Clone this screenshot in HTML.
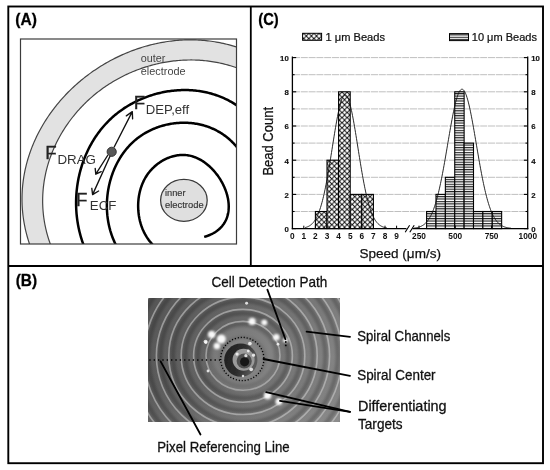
<!DOCTYPE html><html><head><meta charset="utf-8"><title>Spiral figure</title><style>
html,body{margin:0;padding:0;background:#fff;}svg{display:block;}
text{font-family:"Liberation Sans",Arial,sans-serif;}
</style></head><body>
<svg width="550" height="470" viewBox="0 0 550 470">
<defs>
<pattern id="xh" patternUnits="userSpaceOnUse" width="5.1" height="5.1" patternTransform="translate(0.3,0.3)"><rect width="5.1" height="5.1" fill="#fff"/><path d="M-1,-1 L6.1,6.1 M6.1,-1 L-1,6.1" stroke="#111" stroke-width="1.02"/></pattern>
<pattern id="hz" patternUnits="userSpaceOnUse" width="10" height="2.45"><rect width="10" height="2.45" fill="#fff"/><rect y="0" width="10" height="1.0" fill="#222"/><rect y="1.0" width="10" height="0.6" fill="#999"/></pattern>
<clipPath id="clipA"><rect x="20.5" y="39" width="216" height="205"/></clipPath>
<clipPath id="clipP"><rect x="148" y="298" width="192" height="124"/></clipPath>
<linearGradient id="pg" x1="0" y1="0" x2="1" y2="0"><stop offset="0" stop-color="#5a5a5a"/><stop offset="0.45" stop-color="#6a6a6a"/><stop offset="1" stop-color="#858585"/></linearGradient>
<linearGradient id="pgv" x1="0" y1="0" x2="0" y2="1"><stop offset="0" stop-color="#000" stop-opacity="0.06"/><stop offset="0.5" stop-color="#000" stop-opacity="0"/><stop offset="1" stop-color="#fff" stop-opacity="0.07"/></linearGradient>
<filter id="bl" x="-1" y="-1" width="3" height="3"><feGaussianBlur stdDeviation="1.1"/></filter>
<filter id="bl2" x="-1" y="-1" width="3" height="3"><feGaussianBlur stdDeviation="0.6"/></filter>
<filter id="bl3" x="-0.2" y="-0.2" width="1.4" height="1.4"><feGaussianBlur stdDeviation="1.6"/></filter>
<filter id="bl4" x="-2" y="-2" width="5" height="5"><feGaussianBlur stdDeviation="1.0"/></filter>
<linearGradient id="dk" x1="0" y1="0" x2="1" y2="0.3"><stop offset="0" stop-color="#1e1e1e"/><stop offset="0.6" stop-color="#2e2e2e"/><stop offset="1" stop-color="#5a5a5a"/></linearGradient>
</defs>
<rect x="8.3" y="6.5" width="534.7" height="456.7" fill="none" stroke="#000" stroke-width="1.9"/>
<line x1="8" y1="266" x2="543" y2="266" stroke="#000" stroke-width="1.9"/>
<line x1="250.8" y1="6" x2="250.8" y2="266" stroke="#000" stroke-width="1.8"/>
<text x="15.3" y="24.6" font-size="17.2" font-weight="bold" stroke="#000" stroke-width="0.3" textLength="21.6" lengthAdjust="spacingAndGlyphs">(A)</text>
<text x="258.3" y="24.7" font-size="17.2" font-weight="bold" stroke="#000" stroke-width="0.3" textLength="20.4" lengthAdjust="spacingAndGlyphs">(C)</text>
<text x="15.7" y="285.7" font-size="17.2" font-weight="bold" stroke="#000" stroke-width="0.3" textLength="21.4" lengthAdjust="spacingAndGlyphs">(B)</text>
<g clip-path="url(#clipA)">
<path d="M31.10,248.82 L29.86,245.01 L29.25,243.21 L28.66,241.40 L28.10,239.60 L27.56,237.79 L27.05,235.99 L26.57,234.18 L26.11,232.38 L25.67,230.58 L25.26,228.78 L24.88,226.98 L24.52,225.19 L24.19,223.39 L23.88,221.60 L23.59,219.81 L23.33,218.02 L23.09,216.23 L22.88,214.45 L22.69,212.66 L22.52,210.88 L22.38,209.11 L22.26,207.33 L22.16,205.56 L22.09,203.79 L22.04,202.03 L22.01,200.26 L22.01,198.50 L22.03,196.75 L22.07,195.00 L22.13,193.25 L22.22,191.50 L22.32,189.76 L22.45,188.03 L22.60,186.30 L22.77,184.57 L22.97,182.84 L23.18,181.12 L23.42,179.41 L23.67,177.70 L23.95,176.00 L24.25,174.30 L24.57,172.60 L24.91,170.91 L25.27,169.23 L25.65,167.55 L26.05,165.88 L26.47,164.21 L26.90,162.55 L27.36,160.89 L27.84,159.24 L28.34,157.60 L28.85,155.96 L29.39,154.33 L29.94,152.71 L30.52,151.09 L31.11,149.48 L31.72,147.88 L32.34,146.28 L32.99,144.70 L33.65,143.11 L34.34,141.54 L35.04,139.97 L35.75,138.41 L36.49,136.86 L37.24,135.32 L38.01,133.78 L38.79,132.26 L39.60,130.74 L40.42,129.23 L41.25,127.73 L42.10,126.23 L42.97,124.75 L43.86,123.27 L44.76,121.80 L45.67,120.35 L46.61,118.90 L47.55,117.46 L48.52,116.03 L49.49,114.61 L50.49,113.20 L51.50,111.80 L52.52,110.41 L53.56,109.03 L54.61,107.66 L55.68,106.29 L56.76,104.94 L57.85,103.61 L58.96,102.28 L60.09,100.96 L61.22,99.65 L62.37,98.36 L63.54,97.07 L64.71,95.80 L65.90,94.53 L67.11,93.28 L68.32,92.04 L69.55,90.82 L70.79,89.60 L72.05,88.40 L73.31,87.21 L74.59,86.03 L75.88,84.86 L77.18,83.70 L78.50,82.56 L79.82,81.43 L81.16,80.32 L82.51,79.21 L83.87,78.12 L85.23,77.04 L86.62,75.98 L88.01,74.93 L89.41,73.89 L90.82,72.87 L92.24,71.86 L93.67,70.86 L95.12,69.88 L96.57,68.91 L98.03,67.95 L99.50,67.01 L100.98,66.08 L102.47,65.17 L103.97,64.27 L105.47,63.39 L106.99,62.52 L108.51,61.67 L110.04,60.83 L111.58,60.00 L113.13,59.19 L114.69,58.40 L116.25,57.62 L117.82,56.85 L119.40,56.10 L120.99,55.37 L122.58,54.65 L124.18,53.95 L125.78,53.26 L127.40,52.59 L129.01,51.94 L130.64,51.30 L132.27,50.68 L133.91,50.07 L135.55,49.48 L137.20,48.91 L138.85,48.35 L140.51,47.81 L142.18,47.29 L143.85,46.78 L145.52,46.29 L147.20,45.82 L148.88,45.36 L150.57,44.93 L152.26,44.50 L153.96,44.10 L155.66,43.72 L157.36,43.35 L159.07,43.00 L160.78,42.67 L162.49,42.35 L164.21,42.05 L165.93,41.78 L167.65,41.52 L169.37,41.27 L171.10,41.05 L172.83,40.85 L174.56,40.66 L176.30,40.49 L178.03,40.34 L179.77,40.21 L181.51,40.10 L183.25,40.01 L184.99,39.94 L186.73,39.89 L188.48,39.85 L190.22,39.84 L191.97,39.85 L193.71,39.87 L195.46,39.92 L197.20,39.98 L198.95,40.07 L200.69,40.17 L202.44,40.30 L204.18,40.45 L205.93,40.61 L207.67,40.80 L209.41,41.01 L211.15,41.23 L212.89,41.48 L214.63,41.75 L216.37,42.04 L218.10,42.36 L219.83,42.69 L221.56,43.04 L223.29,43.42 L225.02,43.82 L226.74,44.24 L228.46,44.68 L230.18,45.14 L231.89,45.63 L233.61,46.13 L235.31,46.66 L239.15,47.80 L238.97,68.50 238.97,68.50 L235.16,67.27 L233.63,66.76 L232.09,66.26 L230.55,65.79 L229.01,65.33 L227.46,64.89 L225.91,64.47 L224.35,64.07 L222.79,63.69 L221.23,63.33 L219.67,62.99 L218.10,62.66 L216.53,62.36 L214.96,62.07 L213.38,61.81 L211.81,61.56 L210.23,61.33 L208.65,61.11 L207.07,60.92 L205.48,60.74 L203.90,60.59 L202.31,60.45 L200.73,60.32 L199.14,60.22 L197.55,60.14 L195.96,60.07 L194.37,60.02 L192.79,59.99 L191.20,59.97 L189.61,59.98 L188.02,60.00 L186.43,60.03 L184.85,60.09 L183.26,60.16 L181.68,60.25 L180.09,60.36 L178.51,60.48 L176.93,60.62 L175.35,60.78 L173.77,60.96 L172.20,61.15 L170.62,61.36 L169.05,61.58 L167.49,61.82 L165.92,62.08 L164.36,62.36 L162.80,62.65 L161.24,62.96 L159.69,63.28 L158.14,63.62 L156.59,63.98 L155.05,64.35 L153.51,64.74 L151.98,65.14 L150.45,65.56 L148.93,66.00 L147.41,66.45 L145.89,66.92 L144.38,67.40 L142.87,67.90 L141.37,68.41 L139.88,68.94 L138.39,69.48 L136.91,70.04 L135.43,70.62 L133.96,71.21 L132.50,71.81 L131.04,72.43 L129.59,73.07 L128.14,73.72 L126.70,74.38 L125.27,75.06 L123.85,75.75 L122.43,76.46 L121.03,77.18 L119.63,77.92 L118.23,78.67 L116.85,79.44 L115.47,80.22 L114.11,81.01 L112.75,81.82 L111.40,82.64 L110.05,83.48 L108.72,84.32 L107.40,85.19 L106.09,86.07 L104.78,86.96 L103.49,87.86 L102.20,88.78 L100.93,89.71 L99.67,90.65 L98.41,91.61 L97.17,92.58 L95.94,93.57 L94.72,94.56 L93.51,95.57 L92.31,96.59 L91.12,97.63 L89.94,98.68 L88.78,99.74 L87.62,100.81 L86.48,101.89 L85.35,102.99 L84.23,104.09 L83.12,105.21 L82.03,106.34 L80.94,107.48 L79.87,108.63 L78.82,109.80 L77.77,110.97 L76.74,112.16 L75.72,113.35 L74.71,114.56 L73.72,115.78 L72.74,117.00 L71.77,118.24 L70.82,119.49 L69.88,120.74 L68.95,122.01 L68.04,123.29 L67.14,124.57 L66.26,125.87 L65.39,127.17 L64.53,128.48 L63.69,129.81 L62.86,131.14 L62.05,132.48 L61.25,133.82 L60.47,135.18 L59.70,136.55 L58.95,137.92 L58.21,139.30 L57.49,140.69 L56.78,142.09 L56.09,143.49 L55.42,144.90 L54.76,146.32 L54.12,147.75 L53.49,149.18 L52.88,150.62 L52.29,152.07 L51.71,153.52 L51.15,154.98 L50.60,156.45 L50.08,157.92 L49.57,159.40 L49.07,160.89 L48.60,162.38 L48.14,163.88 L47.70,165.38 L47.27,166.89 L46.87,168.40 L46.48,169.92 L46.11,171.44 L45.76,172.97 L45.42,174.51 L45.11,176.04 L44.81,177.59 L44.53,179.13 L44.27,180.69 L44.03,182.24 L43.81,183.80 L43.61,185.37 L43.42,186.93 L43.26,188.51 L43.11,190.08 L42.99,191.66 L42.88,193.24 L42.79,194.83 L42.73,196.41 L42.68,198.01 L42.66,199.60 L42.65,201.20 L42.66,202.79 L42.70,204.39 L42.76,206.00 L42.83,207.60 L42.93,209.21 L43.05,210.82 L43.19,212.43 L43.35,214.04 L43.53,215.66 L43.73,217.27 L43.96,218.89 L44.21,220.51 L44.47,222.12 L44.77,223.74 L45.08,225.36 L45.41,226.98 L45.77,228.60 L46.15,230.22 L46.55,231.84 L46.98,233.47 L47.43,235.09 L47.90,236.71 L48.39,238.33 L48.91,239.95 L49.45,241.56 L50.01,243.18 L50.60,244.80 L51.92,248.58 Z" fill="#e2e2e2" stroke="none"/>
<path d="M31.10,248.82 L29.86,245.01 L29.25,243.21 L28.66,241.40 L28.10,239.60 L27.56,237.79 L27.05,235.99 L26.57,234.18 L26.11,232.38 L25.67,230.58 L25.26,228.78 L24.88,226.98 L24.52,225.19 L24.19,223.39 L23.88,221.60 L23.59,219.81 L23.33,218.02 L23.09,216.23 L22.88,214.45 L22.69,212.66 L22.52,210.88 L22.38,209.11 L22.26,207.33 L22.16,205.56 L22.09,203.79 L22.04,202.03 L22.01,200.26 L22.01,198.50 L22.03,196.75 L22.07,195.00 L22.13,193.25 L22.22,191.50 L22.32,189.76 L22.45,188.03 L22.60,186.30 L22.77,184.57 L22.97,182.84 L23.18,181.12 L23.42,179.41 L23.67,177.70 L23.95,176.00 L24.25,174.30 L24.57,172.60 L24.91,170.91 L25.27,169.23 L25.65,167.55 L26.05,165.88 L26.47,164.21 L26.90,162.55 L27.36,160.89 L27.84,159.24 L28.34,157.60 L28.85,155.96 L29.39,154.33 L29.94,152.71 L30.52,151.09 L31.11,149.48 L31.72,147.88 L32.34,146.28 L32.99,144.70 L33.65,143.11 L34.34,141.54 L35.04,139.97 L35.75,138.41 L36.49,136.86 L37.24,135.32 L38.01,133.78 L38.79,132.26 L39.60,130.74 L40.42,129.23 L41.25,127.73 L42.10,126.23 L42.97,124.75 L43.86,123.27 L44.76,121.80 L45.67,120.35 L46.61,118.90 L47.55,117.46 L48.52,116.03 L49.49,114.61 L50.49,113.20 L51.50,111.80 L52.52,110.41 L53.56,109.03 L54.61,107.66 L55.68,106.29 L56.76,104.94 L57.85,103.61 L58.96,102.28 L60.09,100.96 L61.22,99.65 L62.37,98.36 L63.54,97.07 L64.71,95.80 L65.90,94.53 L67.11,93.28 L68.32,92.04 L69.55,90.82 L70.79,89.60 L72.05,88.40 L73.31,87.21 L74.59,86.03 L75.88,84.86 L77.18,83.70 L78.50,82.56 L79.82,81.43 L81.16,80.32 L82.51,79.21 L83.87,78.12 L85.23,77.04 L86.62,75.98 L88.01,74.93 L89.41,73.89 L90.82,72.87 L92.24,71.86 L93.67,70.86 L95.12,69.88 L96.57,68.91 L98.03,67.95 L99.50,67.01 L100.98,66.08 L102.47,65.17 L103.97,64.27 L105.47,63.39 L106.99,62.52 L108.51,61.67 L110.04,60.83 L111.58,60.00 L113.13,59.19 L114.69,58.40 L116.25,57.62 L117.82,56.85 L119.40,56.10 L120.99,55.37 L122.58,54.65 L124.18,53.95 L125.78,53.26 L127.40,52.59 L129.01,51.94 L130.64,51.30 L132.27,50.68 L133.91,50.07 L135.55,49.48 L137.20,48.91 L138.85,48.35 L140.51,47.81 L142.18,47.29 L143.85,46.78 L145.52,46.29 L147.20,45.82 L148.88,45.36 L150.57,44.93 L152.26,44.50 L153.96,44.10 L155.66,43.72 L157.36,43.35 L159.07,43.00 L160.78,42.67 L162.49,42.35 L164.21,42.05 L165.93,41.78 L167.65,41.52 L169.37,41.27 L171.10,41.05 L172.83,40.85 L174.56,40.66 L176.30,40.49 L178.03,40.34 L179.77,40.21 L181.51,40.10 L183.25,40.01 L184.99,39.94 L186.73,39.89 L188.48,39.85 L190.22,39.84 L191.97,39.85 L193.71,39.87 L195.46,39.92 L197.20,39.98 L198.95,40.07 L200.69,40.17 L202.44,40.30 L204.18,40.45 L205.93,40.61 L207.67,40.80 L209.41,41.01 L211.15,41.23 L212.89,41.48 L214.63,41.75 L216.37,42.04 L218.10,42.36 L219.83,42.69 L221.56,43.04 L223.29,43.42 L225.02,43.82 L226.74,44.24 L228.46,44.68 L230.18,45.14 L231.89,45.63 L233.61,46.13 L235.31,46.66 L239.15,47.80" fill="none" stroke="#444" stroke-width="1.2"/>
<path d="M51.92,248.58 L50.60,244.80 L50.01,243.18 L49.45,241.56 L48.91,239.95 L48.39,238.33 L47.90,236.71 L47.43,235.09 L46.98,233.47 L46.55,231.84 L46.15,230.22 L45.77,228.60 L45.41,226.98 L45.08,225.36 L44.77,223.74 L44.47,222.12 L44.21,220.51 L43.96,218.89 L43.73,217.27 L43.53,215.66 L43.35,214.04 L43.19,212.43 L43.05,210.82 L42.93,209.21 L42.83,207.60 L42.76,206.00 L42.70,204.39 L42.66,202.79 L42.65,201.20 L42.66,199.60 L42.68,198.01 L42.73,196.41 L42.79,194.83 L42.88,193.24 L42.99,191.66 L43.11,190.08 L43.26,188.51 L43.42,186.93 L43.61,185.37 L43.81,183.80 L44.03,182.24 L44.27,180.69 L44.53,179.13 L44.81,177.59 L45.11,176.04 L45.42,174.51 L45.76,172.97 L46.11,171.44 L46.48,169.92 L46.87,168.40 L47.27,166.89 L47.70,165.38 L48.14,163.88 L48.60,162.38 L49.07,160.89 L49.57,159.40 L50.08,157.92 L50.60,156.45 L51.15,154.98 L51.71,153.52 L52.29,152.07 L52.88,150.62 L53.49,149.18 L54.12,147.75 L54.76,146.32 L55.42,144.90 L56.09,143.49 L56.78,142.09 L57.49,140.69 L58.21,139.30 L58.95,137.92 L59.70,136.55 L60.47,135.18 L61.25,133.82 L62.05,132.48 L62.86,131.14 L63.69,129.81 L64.53,128.48 L65.39,127.17 L66.26,125.87 L67.14,124.57 L68.04,123.29 L68.95,122.01 L69.88,120.74 L70.82,119.49 L71.77,118.24 L72.74,117.00 L73.72,115.78 L74.71,114.56 L75.72,113.35 L76.74,112.16 L77.77,110.97 L78.82,109.80 L79.87,108.63 L80.94,107.48 L82.03,106.34 L83.12,105.21 L84.23,104.09 L85.35,102.99 L86.48,101.89 L87.62,100.81 L88.78,99.74 L89.94,98.68 L91.12,97.63 L92.31,96.59 L93.51,95.57 L94.72,94.56 L95.94,93.57 L97.17,92.58 L98.41,91.61 L99.67,90.65 L100.93,89.71 L102.20,88.78 L103.49,87.86 L104.78,86.96 L106.09,86.07 L107.40,85.19 L108.72,84.32 L110.05,83.48 L111.40,82.64 L112.75,81.82 L114.11,81.01 L115.47,80.22 L116.85,79.44 L118.23,78.67 L119.63,77.92 L121.03,77.18 L122.43,76.46 L123.85,75.75 L125.27,75.06 L126.70,74.38 L128.14,73.72 L129.59,73.07 L131.04,72.43 L132.50,71.81 L133.96,71.21 L135.43,70.62 L136.91,70.04 L138.39,69.48 L139.88,68.94 L141.37,68.41 L142.87,67.90 L144.38,67.40 L145.89,66.92 L147.41,66.45 L148.93,66.00 L150.45,65.56 L151.98,65.14 L153.51,64.74 L155.05,64.35 L156.59,63.98 L158.14,63.62 L159.69,63.28 L161.24,62.96 L162.80,62.65 L164.36,62.36 L165.92,62.08 L167.49,61.82 L169.05,61.58 L170.62,61.36 L172.20,61.15 L173.77,60.96 L175.35,60.78 L176.93,60.62 L178.51,60.48 L180.09,60.36 L181.68,60.25 L183.26,60.16 L184.85,60.09 L186.43,60.03 L188.02,60.00 L189.61,59.98 L191.20,59.97 L192.79,59.99 L194.37,60.02 L195.96,60.07 L197.55,60.14 L199.14,60.22 L200.73,60.32 L202.31,60.45 L203.90,60.59 L205.48,60.74 L207.07,60.92 L208.65,61.11 L210.23,61.33 L211.81,61.56 L213.38,61.81 L214.96,62.07 L216.53,62.36 L218.10,62.66 L219.67,62.99 L221.23,63.33 L222.79,63.69 L224.35,64.07 L225.91,64.47 L227.46,64.89 L229.01,65.33 L230.55,65.79 L232.09,66.26 L233.63,66.76 L235.16,67.27 L238.97,68.50" fill="none" stroke="#444" stroke-width="1.2"/>
<path d="M153.37,245.72 L150.86,242.61 L150.13,241.75 L149.41,240.87 L148.72,239.97 L148.06,239.05 L147.41,238.11 L146.78,237.16 L146.18,236.18 L145.60,235.19 L145.03,234.19 L144.49,233.16 L143.97,232.13 L143.48,231.08 L143.00,230.01 L142.55,228.94 L142.12,227.85 L141.71,226.74 L141.32,225.63 L140.96,224.51 L140.61,223.38 L140.29,222.23 L139.99,221.08 L139.72,219.93 L139.46,218.76 L139.23,217.59 L139.02,216.41 L138.83,215.23 L138.67,214.04 L138.53,212.84 L138.41,211.65 L138.31,210.45 L138.24,209.25 L138.19,208.05 L138.16,206.84 L138.15,205.64 L138.17,204.43 L138.21,203.23 L138.28,202.03 L138.37,200.83 L138.48,199.63 L138.61,198.44 L138.77,197.25 L138.95,196.06 L139.16,194.88 L139.38,193.71 L139.64,192.54 L139.91,191.38 L140.21,190.23 L140.53,189.08 L140.88,187.95 L141.25,186.82 L141.65,185.71 L142.07,184.60 L142.51,183.51 L142.98,182.43 L143.47,181.36 L143.99,180.31 L144.53,179.27 L145.09,178.24 L145.68,177.23 L146.30,176.24 L146.94,175.26 L147.60,174.30 L148.28,173.36 L148.99,172.43 L149.73,171.53 L150.48,170.64 L151.25,169.77 L152.05,168.92 L152.86,168.09 L153.69,167.29 L154.54,166.50 L155.41,165.74 L156.30,164.99 L157.20,164.27 L158.12,163.58 L159.05,162.90 L160.00,162.25 L160.96,161.63 L161.93,161.03 L162.92,160.45 L163.91,159.90 L164.92,159.38 L165.94,158.88 L166.97,158.41 L168.01,157.97 L169.05,157.56 L170.11,157.17 L171.17,156.82 L172.23,156.49 L173.31,156.19 L174.38,155.93 L175.47,155.69 L176.55,155.49 L177.64,155.32 L178.73,155.17 L179.83,155.07 L180.92,154.99 L182.02,154.95 L183.11,154.94 L184.21,154.97 L185.30,155.03 L186.39,155.13 L187.48,155.26 L188.56,155.43 L189.64,155.64 L190.72,155.88 L191.79,156.16 L192.85,156.47 L193.91,156.82 L194.96,157.20 L196.01,157.62 L197.05,158.07 L198.07,158.55 L199.10,159.06 L200.11,159.60 L201.11,160.17 L202.10,160.77 L203.08,161.40 L204.05,162.05 L205.01,162.73 L205.96,163.44 L206.90,164.17 L207.82,164.93 L208.73,165.70 L209.62,166.51 L210.50,167.33 L211.37,168.18 L212.22,169.04 L213.06,169.93 L213.88,170.83 L214.68,171.75 L215.46,172.69 L216.23,173.65 L216.98,174.63 L217.71,175.61 L218.43,176.62 L219.12,177.63 L219.79,178.66 L220.44,179.71 L221.08,180.76 L221.69,181.83 L222.27,182.90 L222.84,183.99 L223.38,185.08 L223.90,186.18 L224.40,187.29 L224.87,188.41 L225.32,189.53 L225.74,190.65 L226.14,191.78 L226.51,192.92 L226.85,194.05 L227.17,195.19 L227.45,196.33 L227.71,197.47 L227.95,198.61 L228.15,199.75 L228.32,200.89 L228.47,202.02 L228.58,203.15 L228.66,204.28 L228.71,205.40 L228.73,206.52 L228.72,207.63 L228.67,208.74 L228.59,209.83 L228.48,210.92 L228.33,212.00 L228.15,213.07 L227.93,214.13 L227.68,215.18 L227.39,216.21 L227.06,217.24 L226.70,218.25 L226.30,219.24 L225.86,220.22 L225.38,221.18 L224.86,222.13 L224.31,223.06 L223.71,223.97 L223.07,224.87 L222.40,225.74 L221.68,226.60 L220.92,227.43 L220.11,228.24 L219.27,229.03 L218.38,229.80 L217.45,230.54 L216.47,231.25 L215.45,231.95 L214.38,232.61 L213.27,233.25 L212.11,233.86 L210.90,234.44 L209.65,235.00 L208.35,235.52 L207.00,236.01 L205.60,236.48 L204.15,236.91" fill="none" stroke="#000" stroke-width="2.5" stroke-linecap="butt"/>
<path d="M116.80,247.07 L115.15,243.43 L114.67,242.41 L114.20,241.38 L113.74,240.34 L113.30,239.30 L112.88,238.25 L112.47,237.20 L112.08,236.14 L111.70,235.07 L111.33,234.00 L110.98,232.92 L110.65,231.84 L110.32,230.75 L110.02,229.66 L109.73,228.57 L109.45,227.47 L109.18,226.36 L108.93,225.26 L108.70,224.15 L108.48,223.03 L108.27,221.91 L108.08,220.79 L107.90,219.67 L107.74,218.54 L107.59,217.42 L107.46,216.29 L107.33,215.15 L107.23,214.02 L107.13,212.89 L107.06,211.75 L106.99,210.61 L106.94,209.47 L106.90,208.33 L106.88,207.19 L106.87,206.05 L106.87,204.91 L106.89,203.77 L106.92,202.63 L106.97,201.49 L107.03,200.35 L107.10,199.22 L107.19,198.08 L107.29,196.94 L107.40,195.81 L107.53,194.68 L107.67,193.55 L107.82,192.42 L107.99,191.29 L108.17,190.17 L108.36,189.05 L108.57,187.93 L108.79,186.81 L109.02,185.70 L109.27,184.59 L109.53,183.49 L109.80,182.39 L110.09,181.29 L110.39,180.20 L110.70,179.11 L111.03,178.03 L111.36,176.95 L111.71,175.88 L112.08,174.81 L112.46,173.75 L112.85,172.69 L113.25,171.64 L113.66,170.60 L114.09,169.56 L114.53,168.53 L114.99,167.50 L115.45,166.48 L115.93,165.47 L116.42,164.47 L116.93,163.47 L117.44,162.49 L117.97,161.51 L118.51,160.53 L119.07,159.57 L119.63,158.61 L120.21,157.67 L120.80,156.73 L121.40,155.80 L122.02,154.88 L122.65,153.97 L123.29,153.07 L123.94,152.18 L124.60,151.30 L125.28,150.43 L125.96,149.58 L126.66,148.73 L127.38,147.89 L128.10,147.06 L128.84,146.25 L129.58,145.45 L130.34,144.65 L131.11,143.88 L131.90,143.11 L132.69,142.35 L133.50,141.61 L134.32,140.88 L135.15,140.17 L135.99,139.46 L136.84,138.77 L137.71,138.10 L138.58,137.43 L139.47,136.78 L140.37,136.15 L141.27,135.53 L142.19,134.92 L143.12,134.32 L144.06,133.74 L145.01,133.18 L145.96,132.63 L146.93,132.09 L147.90,131.56 L148.88,131.06 L149.87,130.56 L150.87,130.08 L151.88,129.61 L152.89,129.16 L153.91,128.73 L154.94,128.30 L155.98,127.90 L157.02,127.51 L158.07,127.13 L159.12,126.77 L160.18,126.42 L161.24,126.09 L162.31,125.77 L163.39,125.47 L164.47,125.18 L165.55,124.91 L166.64,124.65 L167.73,124.41 L168.83,124.19 L169.93,123.98 L171.03,123.79 L172.14,123.61 L173.25,123.45 L174.36,123.30 L175.47,123.17 L176.58,123.06 L177.70,122.96 L178.82,122.88 L179.94,122.82 L181.06,122.77 L182.18,122.73 L183.30,122.72 L184.42,122.72 L185.55,122.74 L186.67,122.77 L187.79,122.82 L188.91,122.89 L190.03,122.97 L191.15,123.07 L192.26,123.19 L193.38,123.32 L194.49,123.48 L195.60,123.64 L196.71,123.83 L197.81,124.03 L198.91,124.26 L200.01,124.49 L201.11,124.75 L202.20,125.02 L203.29,125.32 L204.37,125.62 L205.45,125.95 L206.52,126.30 L207.59,126.66 L208.66,127.04 L209.71,127.44 L210.77,127.85 L211.81,128.29 L212.85,128.74 L213.89,129.21 L214.91,129.70 L215.93,130.21 L216.94,130.74 L217.95,131.28 L218.95,131.84 L219.94,132.43 L220.92,133.03 L221.89,133.65 L222.85,134.29 L223.81,134.94 L224.75,135.62 L225.69,136.32 L226.61,137.03 L227.53,137.77 L228.44,138.52 L229.33,139.29 L230.22,140.09 L231.09,140.90 L231.95,141.73 L232.80,142.58 L233.64,143.45 L234.47,144.34 L235.28,145.25 L236.08,146.18 L238.75,149.16" fill="none" stroke="#000" stroke-width="2.5" stroke-linecap="butt"/>
<path d="M84.37,247.45 L83.08,243.66 L82.62,242.35 L82.17,241.03 L81.74,239.71 L81.33,238.38 L80.93,237.05 L80.55,235.72 L80.18,234.38 L79.83,233.04 L79.50,231.70 L79.18,230.35 L78.88,229.00 L78.59,227.65 L78.32,226.29 L78.06,224.94 L77.82,223.58 L77.60,222.22 L77.39,220.85 L77.20,219.49 L77.02,218.12 L76.86,216.75 L76.71,215.38 L76.58,214.01 L76.46,212.64 L76.36,211.27 L76.28,209.90 L76.21,208.52 L76.16,207.15 L76.12,205.78 L76.09,204.41 L76.08,203.03 L76.09,201.66 L76.11,200.29 L76.15,198.92 L76.20,197.55 L76.27,196.19 L76.35,194.82 L76.45,193.45 L76.56,192.09 L76.69,190.73 L76.83,189.37 L76.98,188.02 L77.15,186.66 L77.34,185.31 L77.54,183.96 L77.76,182.62 L77.99,181.28 L78.23,179.94 L78.49,178.60 L78.76,177.27 L79.05,175.94 L79.36,174.62 L79.67,173.30 L80.01,171.98 L80.35,170.67 L80.71,169.37 L81.09,168.07 L81.48,166.77 L81.88,165.48 L82.30,164.20 L82.73,162.92 L83.18,161.64 L83.64,160.38 L84.11,159.11 L84.60,157.86 L85.10,156.61 L85.62,155.37 L86.15,154.13 L86.70,152.90 L87.25,151.68 L87.83,150.47 L88.41,149.26 L89.01,148.06 L89.63,146.87 L90.25,145.69 L90.90,144.52 L91.55,143.35 L92.22,142.19 L92.90,141.04 L93.60,139.90 L94.31,138.77 L95.03,137.65 L95.77,136.54 L96.52,135.44 L97.28,134.34 L98.06,133.26 L98.85,132.19 L99.65,131.13 L100.47,130.08 L101.30,129.03 L102.15,128.00 L103.00,126.98 L103.87,125.98 L104.76,124.98 L105.65,123.99 L106.56,123.02 L107.48,122.06 L108.42,121.11 L109.37,120.17 L110.33,119.25 L111.30,118.33 L112.29,117.43 L113.29,116.55 L114.30,115.67 L115.33,114.81 L116.37,113.96 L117.42,113.13 L118.48,112.31 L119.55,111.50 L120.63,110.71 L121.73,109.93 L122.84,109.16 L123.95,108.41 L125.08,107.67 L126.22,106.94 L127.36,106.23 L128.52,105.53 L129.69,104.85 L130.86,104.18 L132.05,103.53 L133.24,102.89 L134.44,102.26 L135.66,101.65 L136.87,101.05 L138.10,100.47 L139.34,99.90 L140.58,99.35 L141.83,98.82 L143.08,98.29 L144.35,97.79 L145.62,97.30 L146.89,96.82 L148.17,96.36 L149.46,95.91 L150.75,95.48 L152.05,95.07 L153.36,94.67 L154.67,94.29 L155.98,93.92 L157.30,93.57 L158.62,93.24 L159.95,92.92 L161.28,92.62 L162.61,92.33 L163.95,92.06 L165.29,91.81 L166.63,91.57 L167.98,91.35 L169.33,91.15 L170.68,90.96 L172.03,90.79 L173.39,90.64 L174.74,90.50 L176.10,90.38 L177.46,90.28 L178.82,90.20 L180.18,90.13 L181.54,90.08 L182.90,90.05 L184.26,90.04 L185.62,90.04 L186.98,90.06 L188.34,90.10 L189.70,90.16 L191.05,90.23 L192.41,90.33 L193.76,90.44 L195.12,90.57 L196.47,90.72 L197.81,90.88 L199.16,91.07 L200.50,91.27 L201.84,91.49 L203.18,91.74 L204.51,92.00 L205.84,92.27 L207.16,92.57 L208.48,92.89 L209.80,93.22 L211.11,93.58 L212.42,93.95 L213.72,94.35 L215.02,94.76 L216.31,95.20 L217.59,95.65 L218.87,96.12 L220.15,96.61 L221.41,97.13 L222.67,97.66 L223.93,98.21 L225.17,98.78 L226.41,99.37 L227.64,99.99 L228.87,100.62 L230.08,101.28 L231.29,101.95 L232.49,102.64 L233.68,103.36 L234.86,104.10 L236.03,104.85 L239.42,106.97" fill="none" stroke="#000" stroke-width="2.5" stroke-linecap="butt"/>
</g>
<rect x="20.5" y="39" width="216" height="205" fill="none" stroke="#3c3c3c" stroke-width="1.2"/>
<ellipse cx="183.9" cy="200.3" rx="23.3" ry="21.0" fill="#dfdfdf" stroke="#3a3a3a" stroke-width="1.25"/>
<text x="165" y="196.4" font-size="9.6" fill="#333" stroke="#333" stroke-width="0.15" textLength="20.6" lengthAdjust="spacingAndGlyphs">inner</text>
<text x="165" y="207.9" font-size="9.6" fill="#333" stroke="#333" stroke-width="0.15" textLength="38.6" lengthAdjust="spacingAndGlyphs">electrode</text>
<text x="140.8" y="61.5" font-size="10.8" fill="#444" textLength="24.6" lengthAdjust="spacingAndGlyphs">outer</text>
<text x="140.8" y="75.3" font-size="10.8" fill="#444" textLength="44.8" lengthAdjust="spacingAndGlyphs">electrode</text>
<g fill="#333">
<text x="45.2" y="158.7" font-size="18.7" fill="#222" stroke="#222" stroke-width="0.35">F</text>
<text x="57.4" y="164" font-size="12.6" textLength="38.6" lengthAdjust="spacingAndGlyphs">DRAG</text>
<text x="76" y="205.5" font-size="18.7" fill="#222" stroke="#222" stroke-width="0.35">F</text>
<text x="89.8" y="210.4" font-size="12.6" textLength="26.6" lengthAdjust="spacingAndGlyphs">ECF</text>
<text x="133.7" y="109" font-size="18.7" fill="#222" stroke="#222" stroke-width="0.35">F</text>
<text x="145.8" y="114.1" font-size="12.6" textLength="43.4" lengthAdjust="spacingAndGlyphs">DEP,eff</text>
</g>
<g stroke="#111" stroke-width="1.35" fill="none" stroke-linecap="round" stroke-linejoin="round">
<path d="M114.2,147 L132.3,111.6 M126.3,115.9 L132.3,111.6 L132.6,118.9"/>
<path d="M107.6,155.5 L95.8,174.2 M95.2,168.4 L95.8,174.2 L101.2,171.6"/>
<path d="M110.2,155.8 L92.6,194.6 M91.8,188.3 L92.6,194.6 L98.6,191.0"/>
</g>
<circle cx="111.7" cy="151.8" r="4.6" fill="#585858" stroke="#2a2a2a" stroke-width="0.9"/>
<line x1="293" y1="211.50" x2="527.5" y2="211.50" stroke="#b8b8b8" stroke-width="0.9" stroke-dasharray="7,0.8"/>
<line x1="293" y1="194.40" x2="527.5" y2="194.40" stroke="#b8b8b8" stroke-width="0.9" stroke-dasharray="7,0.8"/>
<line x1="293" y1="177.30" x2="527.5" y2="177.30" stroke="#b8b8b8" stroke-width="0.9" stroke-dasharray="7,0.8"/>
<line x1="293" y1="160.20" x2="527.5" y2="160.20" stroke="#b8b8b8" stroke-width="0.9" stroke-dasharray="7,0.8"/>
<line x1="293" y1="143.10" x2="527.5" y2="143.10" stroke="#b8b8b8" stroke-width="0.9" stroke-dasharray="7,0.8"/>
<line x1="293" y1="126.00" x2="527.5" y2="126.00" stroke="#b8b8b8" stroke-width="0.9" stroke-dasharray="7,0.8"/>
<line x1="293" y1="108.90" x2="527.5" y2="108.90" stroke="#b8b8b8" stroke-width="0.9" stroke-dasharray="7,0.8"/>
<line x1="293" y1="91.80" x2="527.5" y2="91.80" stroke="#b8b8b8" stroke-width="0.9" stroke-dasharray="7,0.8"/>
<line x1="293" y1="74.70" x2="527.5" y2="74.70" stroke="#b8b8b8" stroke-width="0.9" stroke-dasharray="7,0.8"/>
<line x1="293" y1="57.60" x2="527.5" y2="57.60" stroke="#b8b8b8" stroke-width="0.9" stroke-dasharray="7,0.8"/>
<rect x="315.40" y="211.50" width="11.60" height="17.10" fill="url(#xh)" stroke="#000" stroke-width="1.1"/>
<rect x="327.00" y="160.20" width="11.60" height="68.40" fill="url(#xh)" stroke="#000" stroke-width="1.1"/>
<rect x="338.60" y="91.80" width="11.60" height="136.80" fill="url(#xh)" stroke="#000" stroke-width="1.1"/>
<rect x="350.20" y="194.40" width="11.60" height="34.20" fill="url(#xh)" stroke="#000" stroke-width="1.1"/>
<rect x="361.80" y="194.40" width="11.60" height="34.20" fill="url(#xh)" stroke="#000" stroke-width="1.1"/>
<rect x="426.60" y="211.50" width="9.38" height="17.10" fill="url(#hz)" stroke="#000" stroke-width="1.1"/>
<rect x="435.98" y="194.40" width="9.38" height="34.20" fill="url(#hz)" stroke="#000" stroke-width="1.1"/>
<rect x="445.36" y="177.30" width="9.38" height="51.30" fill="url(#hz)" stroke="#000" stroke-width="1.1"/>
<rect x="454.74" y="91.80" width="9.38" height="136.80" fill="url(#hz)" stroke="#000" stroke-width="1.1"/>
<rect x="464.12" y="143.10" width="9.38" height="85.50" fill="url(#hz)" stroke="#000" stroke-width="1.1"/>
<rect x="473.50" y="211.50" width="9.38" height="17.10" fill="url(#hz)" stroke="#000" stroke-width="1.1"/>
<rect x="482.88" y="211.50" width="9.38" height="17.10" fill="url(#hz)" stroke="#000" stroke-width="1.1"/>
<rect x="492.26" y="211.50" width="9.38" height="17.10" fill="url(#hz)" stroke="#000" stroke-width="1.1"/>
<path d="M305.00,227.61 L305.50,227.48 L306.00,227.34 L306.50,227.18 L307.00,227.01 L307.50,226.81 L308.00,226.60 L308.50,226.36 L309.00,226.09 L309.50,225.80 L310.00,225.49 L310.50,225.14 L311.00,224.75 L311.50,224.34 L312.00,223.88 L312.50,223.38 L313.00,222.84 L313.50,222.25 L314.00,221.61 L314.50,220.92 L315.00,220.18 L315.50,219.38 L316.00,218.51 L316.50,217.58 L317.00,216.59 L317.50,215.52 L318.00,214.38 L318.50,213.17 L319.00,211.88 L319.50,210.51 L320.00,209.05 L320.50,207.51 L321.00,205.88 L321.50,204.17 L322.00,202.36 L322.50,200.47 L323.00,198.48 L323.50,196.41 L324.00,194.24 L324.50,191.98 L325.00,189.64 L325.50,187.20 L326.00,184.68 L326.50,182.08 L327.00,179.40 L327.50,176.65 L328.00,173.82 L328.50,170.93 L329.00,167.98 L329.50,164.98 L330.00,161.93 L330.50,158.84 L331.00,155.72 L331.50,152.57 L332.00,149.41 L332.50,146.24 L333.00,143.08 L333.50,139.93 L334.00,136.80 L334.50,133.71 L335.00,130.67 L335.50,127.68 L336.00,124.76 L336.50,121.91 L337.00,119.16 L337.50,116.51 L338.00,113.96 L338.50,111.54 L339.00,109.25 L339.50,107.10 L340.00,105.10 L340.50,103.26 L341.00,101.59 L341.50,100.08 L342.00,98.76 L342.50,97.63 L343.00,96.69 L343.50,95.94 L344.00,95.39 L344.50,95.05 L345.00,94.90 L345.50,94.97 L346.00,95.23 L346.50,95.70 L347.00,96.36 L347.50,97.23 L348.00,98.29 L348.50,99.53 L349.00,100.96 L349.50,102.57 L350.00,104.35 L350.50,106.28 L351.00,108.37 L351.50,110.61 L352.00,112.98 L352.50,115.48 L353.00,118.09 L353.50,120.80 L354.00,123.61 L354.50,126.50 L355.00,129.46 L355.50,132.49 L356.00,135.56 L356.50,138.67 L357.00,141.81 L357.50,144.97 L358.00,148.14 L358.50,151.31 L359.00,154.46 L359.50,157.59 L360.00,160.70 L360.50,163.77 L361.00,166.79 L361.50,169.76 L362.00,172.68 L362.50,175.53 L363.00,178.31 L363.50,181.02 L364.00,183.65 L364.50,186.20 L365.00,188.67 L365.50,191.05 L366.00,193.35 L366.50,195.55 L367.00,197.66 L367.50,199.69 L368.00,201.62 L368.50,203.46 L369.00,205.21 L369.50,206.87 L370.00,208.44 L370.50,209.93 L371.00,211.34 L371.50,212.66 L372.00,213.91 L372.50,215.08 L373.00,216.17 L373.50,217.19 L374.00,218.15 L374.50,219.04 L375.00,219.87 L375.50,220.63 L376.00,221.34 L376.50,222.00 L377.00,222.61 L377.50,223.17 L378.00,223.68 L378.50,224.16 L379.00,224.59 L379.50,224.99 L380.00,225.35 L380.50,225.68 L381.00,225.98 L381.50,226.26 L382.00,226.50 L382.50,226.73 L383.00,226.93 L383.50,227.11 L384.00,227.28 L384.50,227.43 L385.00,227.56 L385.50,227.68 L386.00,227.79 L386.50,227.88 L387.00,227.97" fill="none" stroke="#111" stroke-width="0.9"/>
<path d="M414.00,228.10 L414.50,228.04 L415.00,227.97 L415.50,227.90 L416.00,227.81 L416.50,227.72 L417.00,227.61 L417.50,227.50 L418.00,227.37 L418.50,227.24 L419.00,227.08 L419.50,226.92 L420.00,226.73 L420.50,226.53 L421.00,226.31 L421.50,226.07 L422.00,225.81 L422.50,225.53 L423.00,225.22 L423.50,224.88 L424.00,224.52 L424.50,224.12 L425.00,223.70 L425.50,223.24 L426.00,222.74 L426.50,222.20 L427.00,221.63 L427.50,221.01 L428.00,220.35 L428.50,219.64 L429.00,218.88 L429.50,218.07 L430.00,217.20 L430.50,216.28 L431.00,215.30 L431.50,214.26 L432.00,213.16 L432.50,212.00 L433.00,210.77 L433.50,209.47 L434.00,208.10 L434.50,206.66 L435.00,205.15 L435.50,203.57 L436.00,201.91 L436.50,200.17 L437.00,198.36 L437.50,196.47 L438.00,194.51 L438.50,192.47 L439.00,190.36 L439.50,188.17 L440.00,185.91 L440.50,183.58 L441.00,181.18 L441.50,178.71 L442.00,176.18 L442.50,173.59 L443.00,170.93 L443.50,168.23 L444.00,165.47 L444.50,162.67 L445.00,159.83 L445.50,156.96 L446.00,154.06 L446.50,151.13 L447.00,148.19 L447.50,145.23 L448.00,142.28 L448.50,139.32 L449.00,136.38 L449.50,133.46 L450.00,130.57 L450.50,127.71 L451.00,124.90 L451.50,122.14 L452.00,119.44 L452.50,116.80 L453.00,114.25 L453.50,111.77 L454.00,109.39 L454.50,107.11 L455.00,104.94 L455.50,102.88 L456.00,100.95 L456.50,99.14 L457.00,97.47 L457.50,95.93 L458.00,94.55 L458.50,93.31 L459.00,92.23 L459.50,91.31 L460.00,90.56 L460.50,89.96 L461.00,89.54 L461.50,89.29 L462.00,89.20 L462.50,89.29 L463.00,89.54 L463.50,89.96 L464.00,90.56 L464.50,91.31 L465.00,92.23 L465.50,93.31 L466.00,94.55 L466.50,95.93 L467.00,97.47 L467.50,99.14 L468.00,100.95 L468.50,102.88 L469.00,104.94 L469.50,107.11 L470.00,109.39 L470.50,111.77 L471.00,114.25 L471.50,116.80 L472.00,119.44 L472.50,122.14 L473.00,124.90 L473.50,127.71 L474.00,130.57 L474.50,133.46 L475.00,136.38 L475.50,139.32 L476.00,142.28 L476.50,145.23 L477.00,148.19 L477.50,151.13 L478.00,154.06 L478.50,156.96 L479.00,159.83 L479.50,162.67 L480.00,165.47 L480.50,168.23 L481.00,170.93 L481.50,173.59 L482.00,176.18 L482.50,178.71 L483.00,181.18 L483.50,183.58 L484.00,185.91 L484.50,188.17 L485.00,190.36 L485.50,192.47 L486.00,194.51 L486.50,196.47 L487.00,198.36 L487.50,200.17 L488.00,201.91 L488.50,203.57 L489.00,205.15 L489.50,206.66 L490.00,208.10 L490.50,209.47 L491.00,210.77 L491.50,212.00 L492.00,213.16 L492.50,214.26 L493.00,215.30 L493.50,216.28 L494.00,217.20 L494.50,218.07 L495.00,218.88 L495.50,219.64 L496.00,220.35 L496.50,221.01 L497.00,221.63 L497.50,222.20 L498.00,222.74 L498.50,223.24 L499.00,223.70 L499.50,224.12 L500.00,224.52 L500.50,224.88 L501.00,225.22 L501.50,225.53 L502.00,225.81 L502.50,226.07 L503.00,226.31 L503.50,226.53 L504.00,226.73 L504.50,226.92 L505.00,227.08 L505.50,227.24 L506.00,227.37 L506.50,227.50 L507.00,227.61 L507.50,227.72 L508.00,227.81 L508.50,227.90 L509.00,227.97 L509.50,228.04 L510.00,228.10 L510.50,228.16 L511.00,228.21" fill="none" stroke="#111" stroke-width="0.9"/>
<line x1="292.4" y1="56.5" x2="292.4" y2="229.20" stroke="#000" stroke-width="1.3"/>
<line x1="527.7" y1="56.5" x2="527.7" y2="229.20" stroke="#000" stroke-width="1.3"/>
<line x1="291.8" y1="228.60" x2="406.5" y2="228.60" stroke="#000" stroke-width="1.3"/>
<line x1="412.5" y1="228.60" x2="528.3" y2="228.60" stroke="#000" stroke-width="1.3"/>
<path d="M405.2,232.2 L409.6,225.2 M409.8,232.2 L414.2,225.2" stroke="#000" stroke-width="1.1" fill="none"/>
<line x1="292.4" y1="228.60" x2="296.20" y2="228.60" stroke="#000" stroke-width="1.1"/>
<line x1="527.7" y1="228.60" x2="523.90" y2="228.60" stroke="#000" stroke-width="1.1"/>
<line x1="292.4" y1="211.50" x2="294.60" y2="211.50" stroke="#000" stroke-width="1.1"/>
<line x1="527.7" y1="211.50" x2="525.50" y2="211.50" stroke="#000" stroke-width="1.1"/>
<line x1="292.4" y1="194.40" x2="296.20" y2="194.40" stroke="#000" stroke-width="1.1"/>
<line x1="527.7" y1="194.40" x2="523.90" y2="194.40" stroke="#000" stroke-width="1.1"/>
<line x1="292.4" y1="177.30" x2="294.60" y2="177.30" stroke="#000" stroke-width="1.1"/>
<line x1="527.7" y1="177.30" x2="525.50" y2="177.30" stroke="#000" stroke-width="1.1"/>
<line x1="292.4" y1="160.20" x2="296.20" y2="160.20" stroke="#000" stroke-width="1.1"/>
<line x1="527.7" y1="160.20" x2="523.90" y2="160.20" stroke="#000" stroke-width="1.1"/>
<line x1="292.4" y1="143.10" x2="294.60" y2="143.10" stroke="#000" stroke-width="1.1"/>
<line x1="527.7" y1="143.10" x2="525.50" y2="143.10" stroke="#000" stroke-width="1.1"/>
<line x1="292.4" y1="126.00" x2="296.20" y2="126.00" stroke="#000" stroke-width="1.1"/>
<line x1="527.7" y1="126.00" x2="523.90" y2="126.00" stroke="#000" stroke-width="1.1"/>
<line x1="292.4" y1="108.90" x2="294.60" y2="108.90" stroke="#000" stroke-width="1.1"/>
<line x1="527.7" y1="108.90" x2="525.50" y2="108.90" stroke="#000" stroke-width="1.1"/>
<line x1="292.4" y1="91.80" x2="296.20" y2="91.80" stroke="#000" stroke-width="1.1"/>
<line x1="527.7" y1="91.80" x2="523.90" y2="91.80" stroke="#000" stroke-width="1.1"/>
<line x1="292.4" y1="74.70" x2="294.60" y2="74.70" stroke="#000" stroke-width="1.1"/>
<line x1="527.7" y1="74.70" x2="525.50" y2="74.70" stroke="#000" stroke-width="1.1"/>
<line x1="292.4" y1="57.60" x2="296.20" y2="57.60" stroke="#000" stroke-width="1.1"/>
<line x1="527.7" y1="57.60" x2="523.90" y2="57.60" stroke="#000" stroke-width="1.1"/>
<line x1="303.80" y1="228.60" x2="303.80" y2="225.70" stroke="#000" stroke-width="1"/>
<line x1="315.40" y1="228.60" x2="315.40" y2="225.70" stroke="#000" stroke-width="1"/>
<line x1="327.00" y1="228.60" x2="327.00" y2="225.70" stroke="#000" stroke-width="1"/>
<line x1="338.60" y1="228.60" x2="338.60" y2="225.70" stroke="#000" stroke-width="1"/>
<line x1="350.20" y1="228.60" x2="350.20" y2="225.70" stroke="#000" stroke-width="1"/>
<line x1="361.80" y1="228.60" x2="361.80" y2="225.70" stroke="#000" stroke-width="1"/>
<line x1="373.40" y1="228.60" x2="373.40" y2="225.70" stroke="#000" stroke-width="1"/>
<line x1="385.00" y1="228.60" x2="385.00" y2="225.70" stroke="#000" stroke-width="1"/>
<line x1="396.60" y1="228.60" x2="396.60" y2="225.70" stroke="#000" stroke-width="1"/>
<line x1="419.00" y1="228.60" x2="419.00" y2="225.70" stroke="#000" stroke-width="1"/>
<line x1="455.27" y1="228.60" x2="455.27" y2="225.70" stroke="#000" stroke-width="1"/>
<line x1="491.55" y1="228.60" x2="491.55" y2="225.70" stroke="#000" stroke-width="1"/>
<g font-size="7.8" font-weight="bold" fill="#111" stroke="#111" stroke-width="0.15">
<text x="288.8" y="231.90" text-anchor="end">0</text>
<text x="531.2" y="231.90">0</text>
<text x="288.8" y="197.70" text-anchor="end">2</text>
<text x="531.2" y="197.70">2</text>
<text x="288.8" y="163.50" text-anchor="end">4</text>
<text x="531.2" y="163.50">4</text>
<text x="288.8" y="129.30" text-anchor="end">6</text>
<text x="531.2" y="129.30">6</text>
<text x="288.8" y="95.10" text-anchor="end">8</text>
<text x="531.2" y="95.10">8</text>
<text x="288.8" y="60.90" text-anchor="end">10</text>
<text x="531.2" y="60.90">10</text>
</g>
<g font-size="8.3" font-weight="bold" fill="#111" text-anchor="middle">
<text x="292.20" y="239.4">0</text>
<text x="303.80" y="239.4">1</text>
<text x="315.40" y="239.4">2</text>
<text x="327.00" y="239.4">3</text>
<text x="338.60" y="239.4">4</text>
<text x="350.20" y="239.4">5</text>
<text x="361.80" y="239.4">6</text>
<text x="373.40" y="239.4">7</text>
<text x="385.00" y="239.4">8</text>
<text x="396.60" y="239.4">9</text>
<text x="419.00" y="239.4">250</text>
<text x="455.27" y="239.4">500</text>
<text x="491.55" y="239.4">750</text>
<text x="527.83" y="239.4">1000</text>
</g>
<text transform="translate(273.2,141.3) rotate(-90)" font-size="13.9" text-anchor="middle" fill="#111" stroke="#111" stroke-width="0.25" textLength="68.6" lengthAdjust="spacingAndGlyphs">Bead Count</text>
<text x="359.4" y="258" font-size="13.6" fill="#111" stroke="#111" stroke-width="0.25" textLength="81.6" lengthAdjust="spacingAndGlyphs">Speed (μm/s)</text>
<rect x="302.6" y="33.3" width="19" height="7" fill="url(#xh)" stroke="#000" stroke-width="1"/>
<text x="325.6" y="40.5" font-size="10.9" fill="#111" stroke="#111" stroke-width="0.22" textLength="59.4" lengthAdjust="spacingAndGlyphs">1 μm Beads</text>
<rect x="449.5" y="33.6" width="19" height="7" fill="url(#hz)" stroke="#000" stroke-width="1"/>
<text x="471.8" y="40.5" font-size="10.9" fill="#111" stroke="#111" stroke-width="0.22" textLength="65.2" lengthAdjust="spacingAndGlyphs">10 μm Beads</text>
<g clip-path="url(#clipP)">
<rect x="148" y="298" width="192" height="124" fill="url(#pg)"/>
<rect x="148" y="298" width="192" height="124" fill="url(#pgv)"/>
<ellipse cx="243.0" cy="355.8" rx="32.80" ry="30.50" fill="none" stroke="#000" stroke-opacity="0.2" stroke-width="4.5" filter="url(#bl)"/>
<ellipse cx="243.0" cy="355.8" rx="45.20" ry="42.49" fill="none" stroke="#000" stroke-opacity="0.2" stroke-width="4.5" filter="url(#bl)"/>
<ellipse cx="243.0" cy="355.8" rx="57.60" ry="54.72" fill="none" stroke="#000" stroke-opacity="0.2" stroke-width="4.5" filter="url(#bl)"/>
<ellipse cx="243.0" cy="355.8" rx="70.00" ry="67.20" fill="none" stroke="#000" stroke-opacity="0.2" stroke-width="4.5" filter="url(#bl)"/>
<ellipse cx="243.0" cy="355.8" rx="82.40" ry="79.93" fill="none" stroke="#000" stroke-opacity="0.2" stroke-width="4.5" filter="url(#bl)"/>
<ellipse cx="243.0" cy="355.8" rx="94.80" ry="92.90" fill="none" stroke="#000" stroke-opacity="0.2" stroke-width="4.5" filter="url(#bl)"/>
<ellipse cx="243.0" cy="355.8" rx="107.20" ry="106.13" fill="none" stroke="#000" stroke-opacity="0.2" stroke-width="4.5" filter="url(#bl)"/>
<ellipse cx="243.0" cy="355.8" rx="119.60" ry="119.60" fill="none" stroke="#000" stroke-opacity="0.2" stroke-width="4.5" filter="url(#bl)"/>
<ellipse cx="243.0" cy="355.8" rx="37.00" ry="34.41" fill="none" stroke="#cfcfcf" stroke-opacity="0.55" stroke-width="1.6" filter="url(#bl2)"/>
<ellipse cx="243.0" cy="355.8" rx="49.40" ry="46.44" fill="none" stroke="#cfcfcf" stroke-opacity="0.55" stroke-width="1.6" filter="url(#bl2)"/>
<ellipse cx="243.0" cy="355.8" rx="61.80" ry="58.71" fill="none" stroke="#cfcfcf" stroke-opacity="0.55" stroke-width="1.6" filter="url(#bl2)"/>
<ellipse cx="243.0" cy="355.8" rx="74.20" ry="71.23" fill="none" stroke="#cfcfcf" stroke-opacity="0.55" stroke-width="1.6" filter="url(#bl2)"/>
<ellipse cx="243.0" cy="355.8" rx="86.60" ry="84.00" fill="none" stroke="#cfcfcf" stroke-opacity="0.55" stroke-width="1.6" filter="url(#bl2)"/>
<ellipse cx="243.0" cy="355.8" rx="99.00" ry="97.02" fill="none" stroke="#cfcfcf" stroke-opacity="0.55" stroke-width="1.6" filter="url(#bl2)"/>
<ellipse cx="243.0" cy="355.8" rx="111.40" ry="110.29" fill="none" stroke="#cfcfcf" stroke-opacity="0.55" stroke-width="1.6" filter="url(#bl2)"/>
<ellipse cx="243.0" cy="355.8" rx="123.80" ry="123.80" fill="none" stroke="#cfcfcf" stroke-opacity="0.55" stroke-width="1.6" filter="url(#bl2)"/>
<ellipse cx="243" cy="358" rx="29" ry="27.5" fill="none" stroke="#a0a0a0" stroke-opacity="0.35" stroke-width="11" filter="url(#bl3)"/>
<circle cx="242.5" cy="359.5" r="21" fill="#868686" fill-opacity="0.85" filter="url(#bl)"/>
<circle cx="240.8" cy="360.2" r="16.6" fill="url(#dk)" filter="url(#bl2)"/>
<circle cx="243.6" cy="359.8" r="11" fill="#9a9a9a" filter="url(#bl2)"/>
<circle cx="244.2" cy="361" r="7.6" fill="#505050" filter="url(#bl2)"/>
<circle cx="244.6" cy="361.8" r="4.6" fill="#181818" filter="url(#bl2)"/>
<circle cx="252.1" cy="321.4" r="3.62" fill="#fff" fill-opacity="0.95" filter="url(#bl4)"/>
<circle cx="264.3" cy="322.4" r="3.00" fill="#fff" fill-opacity="0.95" filter="url(#bl4)"/>
<circle cx="276.3" cy="337.3" r="3.25" fill="#fff" fill-opacity="0.95" filter="url(#bl4)"/>
<circle cx="285.4" cy="340.2" r="2.50" fill="#fff" fill-opacity="0.95" filter="url(#bl4)"/>
<circle cx="246.6" cy="303.2" r="1.49" fill="#fff" fill-opacity="0.8" filter="url(#bl2)"/>
<circle cx="278" cy="344.2" r="1.38" fill="#fff" fill-opacity="0.8" filter="url(#bl2)"/>
<circle cx="211.7" cy="334.6" r="3.75" fill="#fff" fill-opacity="0.95" filter="url(#bl4)"/>
<circle cx="221.3" cy="339" r="4.50" fill="#fff" fill-opacity="0.95" filter="url(#bl4)"/>
<circle cx="216.9" cy="346" r="3.25" fill="#fff" fill-opacity="0.95" filter="url(#bl4)"/>
<circle cx="205.6" cy="341.6" r="1.95" fill="#fff" fill-opacity="0.8" filter="url(#bl2)"/>
<circle cx="205.9" cy="342.6" r="1.49" fill="#fff" fill-opacity="0.8" filter="url(#bl2)"/>
<circle cx="208" cy="371" r="1.38" fill="#fff" fill-opacity="0.8" filter="url(#bl2)"/>
<circle cx="267.6" cy="395.5" r="3.75" fill="#fff" fill-opacity="0.95" filter="url(#bl4)"/>
<circle cx="278.9" cy="401.6" r="3.50" fill="#fff" fill-opacity="0.95" filter="url(#bl4)"/>
<circle cx="251.2" cy="369.3" r="1.84" fill="#fff" fill-opacity="0.8" filter="url(#bl2)"/>
<circle cx="237.1" cy="354.1" r="1.61" fill="#fff" fill-opacity="0.8" filter="url(#bl2)"/>
<circle cx="245.9" cy="355.7" r="1.61" fill="#fff" fill-opacity="0.8" filter="url(#bl2)"/>
<circle cx="253.6" cy="355.2" r="1.61" fill="#fff" fill-opacity="0.8" filter="url(#bl2)"/>
<circle cx="248.3" cy="351" r="1.38" fill="#fff" fill-opacity="0.8" filter="url(#bl2)"/>
<circle cx="249.9" cy="343.5" r="1.84" fill="#fff" fill-opacity="0.8" filter="url(#bl2)"/>
<circle cx="243" cy="376" r="1.26" fill="#fff" fill-opacity="0.8" filter="url(#bl2)"/>
</g>
<circle cx="242.3" cy="359" r="21.6" fill="none" stroke="#000" stroke-width="1.35" stroke-dasharray="1.15 1.866"/>
<line x1="149.3" y1="360" x2="220" y2="360" stroke="#000" stroke-width="1.3" stroke-dasharray="1.3 3.05"/>
<g fill="#000"><circle cx="285.8" cy="342" r="0.9"/><circle cx="285.8" cy="345.4" r="0.9"/></g>
<g stroke="#000" stroke-width="1.8" fill="none" stroke-linecap="round">
<line x1="267.4" y1="289.6" x2="285.4" y2="339.2"/>
<line x1="306.6" y1="331.6" x2="350" y2="336.8"/>
<line x1="263.5" y1="359" x2="350" y2="375.8"/>
<line x1="266.2" y1="392.2" x2="350" y2="411.8"/>
<line x1="280" y1="400.8" x2="350" y2="411.8"/>
<line x1="160.6" y1="361.4" x2="200.5" y2="434.5"/>
</g>
<g font-size="13.9" fill="#111" stroke="#111" stroke-width="0.28">
<text x="211.6" y="286.5" textLength="115.6" lengthAdjust="spacingAndGlyphs">Cell Detection Path</text>
<text x="357.2" y="340.6" textLength="93.2" lengthAdjust="spacingAndGlyphs">Spiral Channels</text>
<text x="357.2" y="380" textLength="78.4" lengthAdjust="spacingAndGlyphs">Spiral Center</text>
<text x="358" y="411.4" textLength="88.6" lengthAdjust="spacingAndGlyphs">Differentiating</text>
<text x="358" y="428.6" textLength="44.6" lengthAdjust="spacingAndGlyphs">Targets</text>
<text x="157.3" y="451.8" textLength="132.3" lengthAdjust="spacingAndGlyphs">Pixel Referencing Line</text>
</g>
</svg></body></html>
